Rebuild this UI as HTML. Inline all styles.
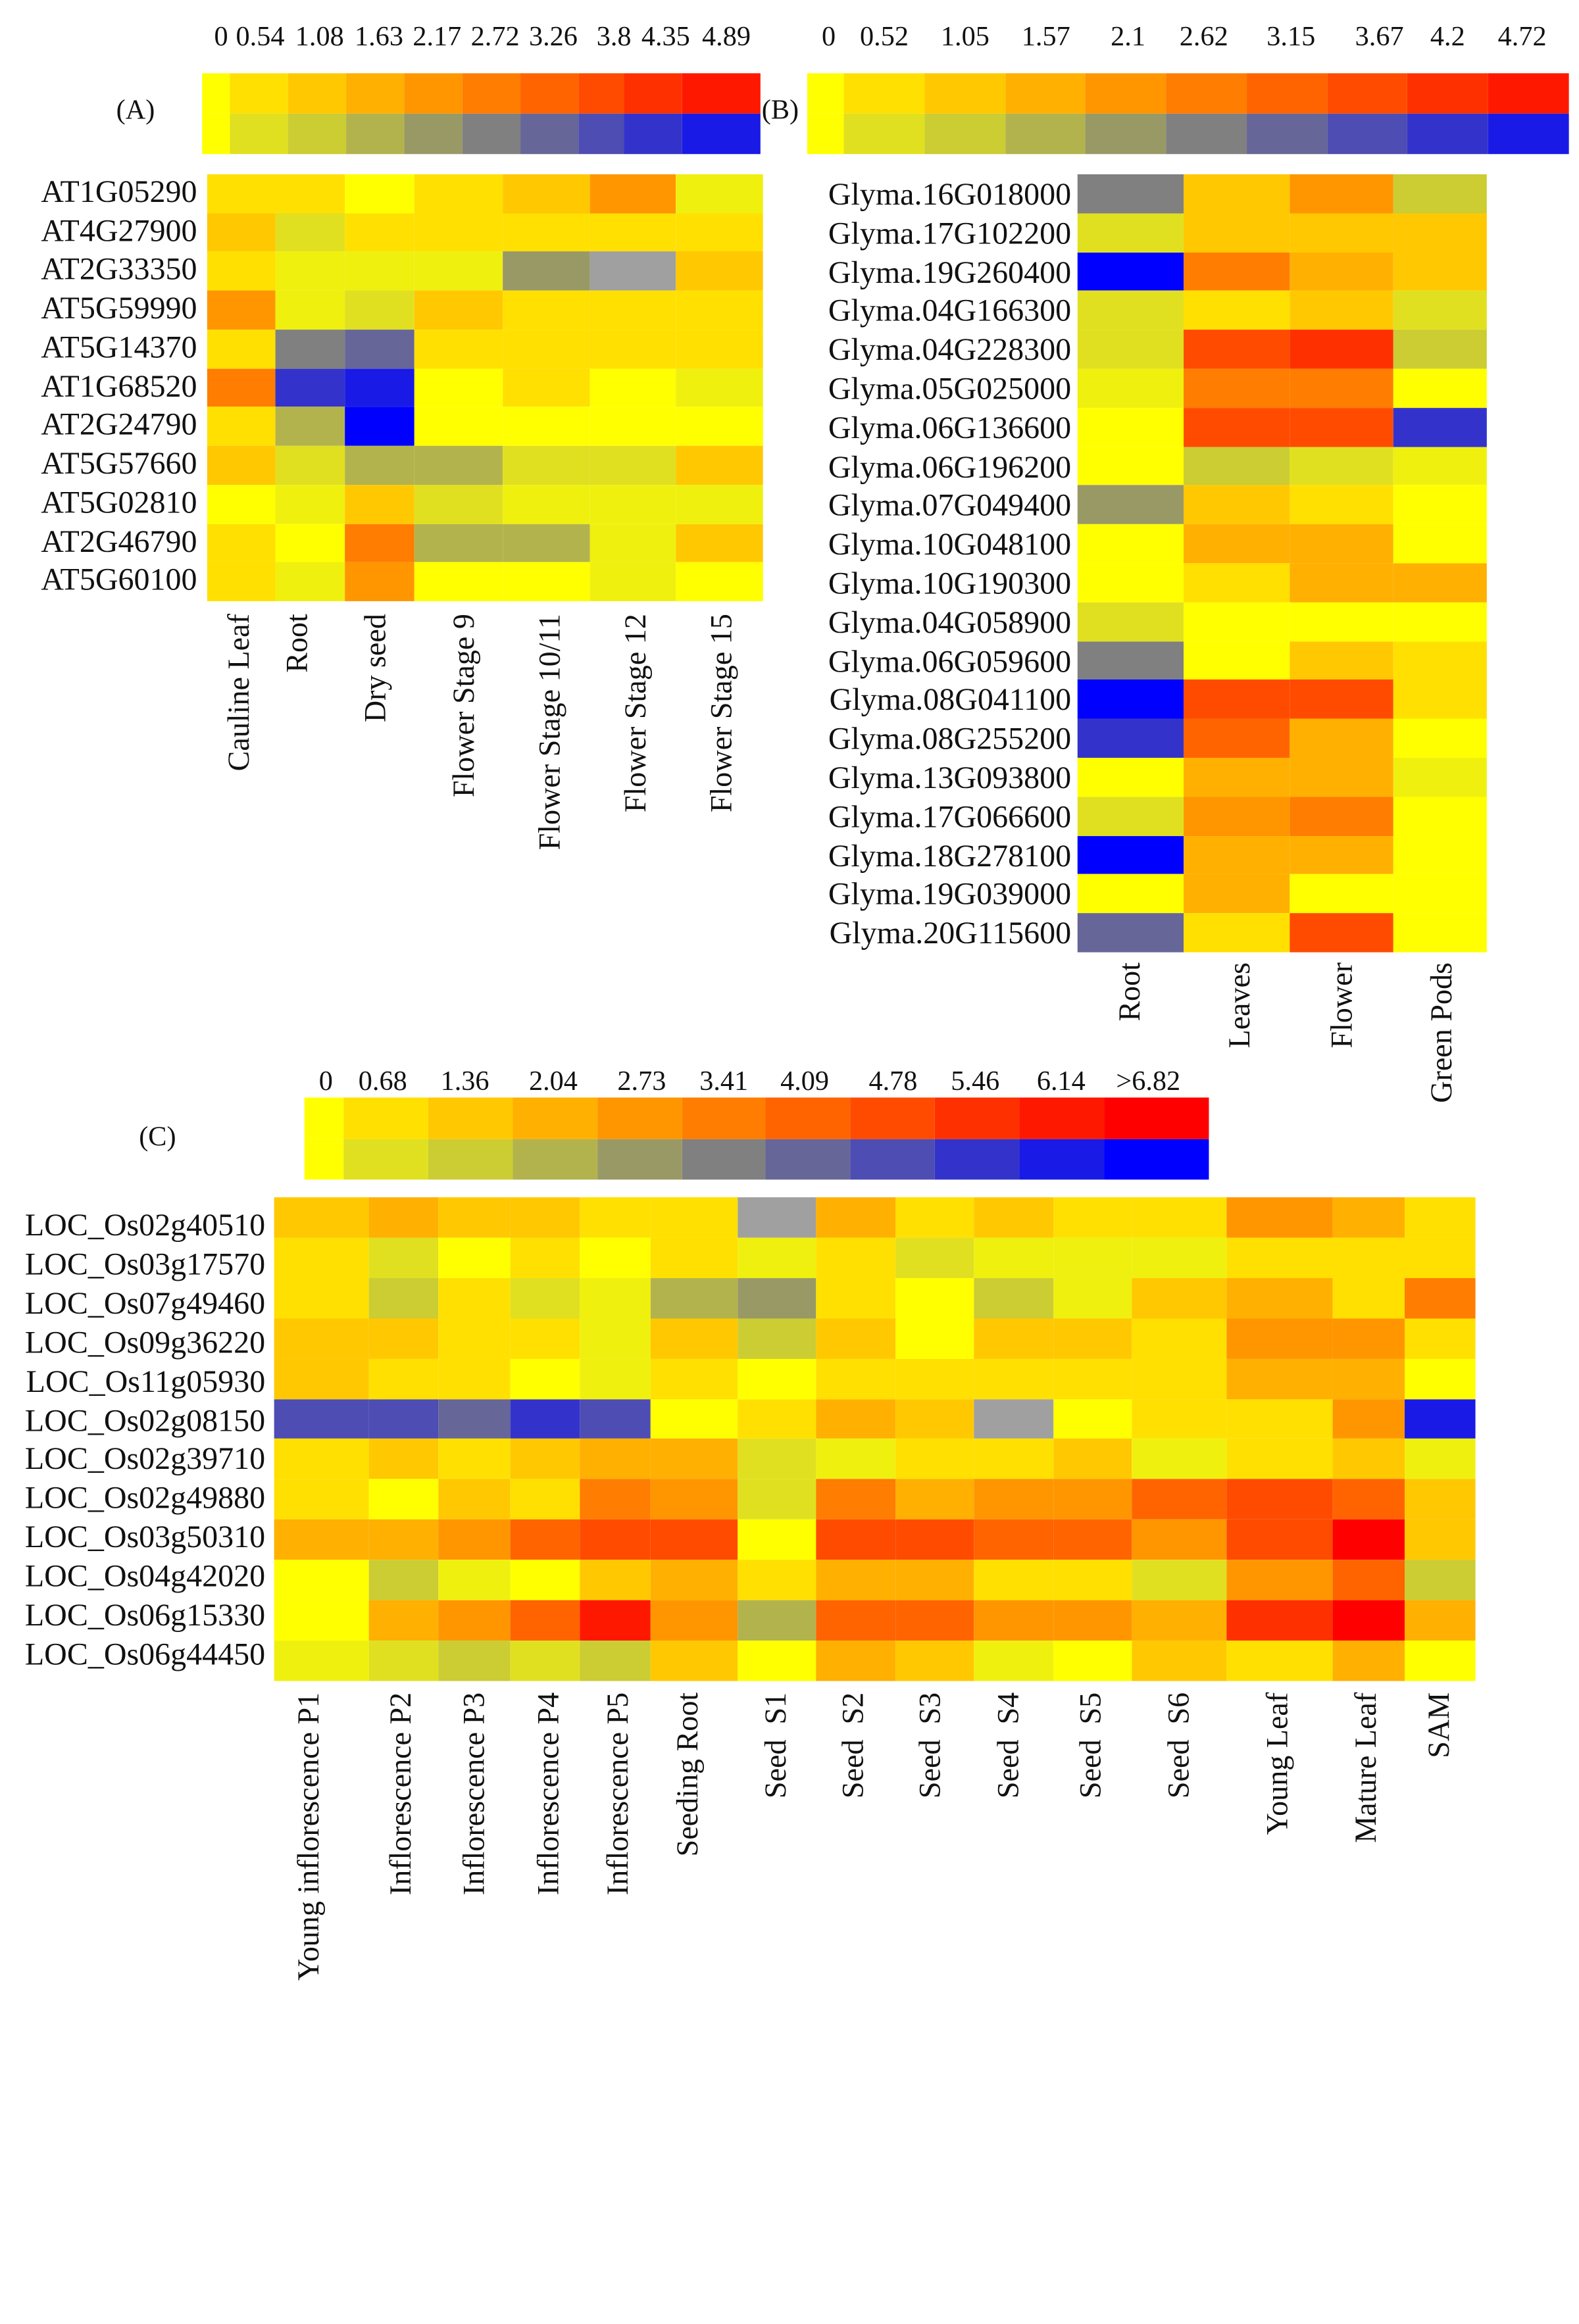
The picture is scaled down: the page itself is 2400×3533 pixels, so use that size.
<!DOCTYPE html>
<html><head><meta charset="utf-8">
<style>
html,body{margin:0;padding:0;background:#fff;width:2400px;height:3010px;overflow:hidden}
#p{position:absolute;left:0;top:0;width:1250px;height:1568px;transform:scale(1.92);transform-origin:0 0;font-family:"Liberation Serif",serif;color:#111}
.a{position:absolute}
.bar{position:absolute;display:flex;flex-direction:column}
.bar>div{display:flex;flex:1}
.bar>div>div{height:100%}
.g{position:absolute;display:grid}
.rl{position:absolute;text-align:right;font-size:25px}
.xl{position:absolute;width:500px;text-align:right;font-size:24px;line-height:28px;transform-origin:right top;transform:rotate(-90deg);white-space:nowrap}
.t{position:absolute;font-size:22px;transform:translateX(-50%);white-space:nowrap}
.Y{background:#ffff00}.Yg{background:#f0f00f}.O1{background:#ffe000}.O2{background:#ffc800}.O3{background:#ffb000}.O4{background:#ff9600}.O5{background:#ff7d00}.O6{background:#ff6400}.O7{background:#ff4b00}.O8{background:#ff3000}.O9{background:#ff1800}.R{background:#ff0000}
.G1{background:#e0e020}.G2{background:#cccc33}.G3{background:#b3b34d}.G4{background:#999966}.G5{background:#808080}.G6{background:#666699}.G7{background:#4d4db3}.G8{background:#3333cc}.G9{background:#1a1ae6}.G10{background:#0000ff}.GR{background:#a0a0a0}
</style></head><body><div id="p">

<!-- Panel A colorbar -->
<span class="t" style="left:175px;top:16px">0</span><span class="t" style="left:206px;top:16px">0.54</span><span class="t" style="left:253px;top:16px">1.08</span><span class="t" style="left:300px;top:16px">1.63</span><span class="t" style="left:346px;top:16px">2.17</span><span class="t" style="left:392px;top:16px">2.72</span><span class="t" style="left:438px;top:16px">3.26</span><span class="t" style="left:486px;top:16px">3.8</span><span class="t" style="left:527px;top:16px">4.35</span><span class="t" style="left:575px;top:16px">4.89</span>
<div class="a" style="left:92px;top:74px;font-size:22px">(A)</div>
<div class="bar" style="left:160px;top:58px;width:442px;height:64px">
<div><div class="Y" style="width:22px"></div><div class="O1" style="width:46px"></div><div class="O2" style="width:46px"></div><div class="O3" style="width:46px"></div><div class="O4" style="width:46px"></div><div class="O5" style="width:46px"></div><div class="O6" style="width:46px"></div><div class="O7" style="width:36px"></div><div class="O8" style="width:46px"></div><div class="O9" style="width:62px"></div></div>
<div><div class="Y" style="width:22px"></div><div class="G1" style="width:46px"></div><div class="G2" style="width:46px"></div><div class="G3" style="width:46px"></div><div class="G4" style="width:46px"></div><div class="G5" style="width:46px"></div><div class="G6" style="width:46px"></div><div class="G7" style="width:36px"></div><div class="G8" style="width:46px"></div><div class="G9" style="width:62px"></div></div>
</div>
<div class="rl" style="left:0;top:138px;width:156px;line-height:30.73px">AT1G05290<br>AT4G27900<br>AT2G33350<br>AT5G59990<br>AT5G14370<br>AT1G68520<br>AT2G24790<br>AT5G57660<br>AT5G02810<br>AT2G46790<br>AT5G60100</div>
<div class="g" style="left:164px;top:138px;width:440px;height:338px;grid-template-columns:53.5px 55.5px 55px 70px 69px 68px 69px;grid-template-rows:repeat(11,1fr)">
<div class="O1"></div><div class="O1"></div><div class="Y"></div><div class="O1"></div><div class="O2"></div><div class="O4"></div><div class="Yg"></div>
<div class="O2"></div><div class="G1"></div><div class="O1"></div><div class="O1"></div><div class="O1"></div><div class="O1"></div><div class="O1"></div>
<div class="O1"></div><div class="Yg"></div><div class="Yg"></div><div class="Yg"></div><div class="G4"></div><div class="GR"></div><div class="O2"></div>
<div class="O4"></div><div class="Yg"></div><div class="G1"></div><div class="O2"></div><div class="O1"></div><div class="O1"></div><div class="O1"></div>
<div class="O1"></div><div class="G5"></div><div class="G6"></div><div class="O1"></div><div class="O1"></div><div class="O1"></div><div class="O1"></div>
<div class="O5"></div><div class="G8"></div><div class="G9"></div><div class="Y"></div><div class="O1"></div><div class="Y"></div><div class="Yg"></div>
<div class="O1"></div><div class="G3"></div><div class="G10"></div><div class="Y"></div><div class="Y"></div><div class="Y"></div><div class="Y"></div>
<div class="O2"></div><div class="G1"></div><div class="G3"></div><div class="G3"></div><div class="G1"></div><div class="G1"></div><div class="O2"></div>
<div class="Y"></div><div class="Yg"></div><div class="O2"></div><div class="G1"></div><div class="Yg"></div><div class="Yg"></div><div class="Yg"></div>
<div class="O1"></div><div class="Y"></div><div class="O5"></div><div class="G3"></div><div class="G3"></div><div class="Yg"></div><div class="O2"></div>
<div class="O1"></div><div class="Yg"></div><div class="O4"></div><div class="Y"></div><div class="Y"></div><div class="Yg"></div><div class="Y"></div>
</div>
<div class="xl" style="left:-324px;top:486px">Cauline Leaf</div>
<div class="xl" style="left:-278px;top:486px">Root</div>
<div class="xl" style="left:-216px;top:486px">Dry seed</div>
<div class="xl" style="left:-146px;top:486px">Flower Stage 9</div>
<div class="xl" style="left:-78px;top:486px">Flower Stage 10/11</div>
<div class="xl" style="left:-10px;top:486px">Flower Stage 12</div>
<div class="xl" style="left:58px;top:486px">Flower Stage 15</div>

<!-- Panel B -->
<span class="t" style="left:656px;top:16px">0</span><span class="t" style="left:700px;top:16px">0.52</span><span class="t" style="left:764px;top:16px">1.05</span><span class="t" style="left:828px;top:16px">1.57</span><span class="t" style="left:893px;top:16px">2.1</span><span class="t" style="left:953px;top:16px">2.62</span><span class="t" style="left:1022px;top:16px">3.15</span><span class="t" style="left:1092px;top:16px">3.67</span><span class="t" style="left:1146px;top:16px">4.2</span><span class="t" style="left:1205px;top:16px">4.72</span>
<div class="a" style="left:603px;top:74px;font-size:22px">(B)</div>
<div class="bar" style="left:639px;top:58px;width:603px;height:64px">
<div><div class="Y" style="width:29px"></div><div class="O1" style="flex:1"></div><div class="O2" style="flex:1"></div><div class="O3" style="flex:1"></div><div class="O4" style="flex:1"></div><div class="O5" style="flex:1"></div><div class="O6" style="flex:1"></div><div class="O7" style="flex:1"></div><div class="O8" style="flex:1"></div><div class="O9" style="flex:1"></div></div>
<div><div class="Y" style="width:29px"></div><div class="G1" style="flex:1"></div><div class="G2" style="flex:1"></div><div class="G3" style="flex:1"></div><div class="G4" style="flex:1"></div><div class="G5" style="flex:1"></div><div class="G6" style="flex:1"></div><div class="G7" style="flex:1"></div><div class="G8" style="flex:1"></div><div class="G9" style="flex:1"></div></div>
</div>
<div class="rl" style="left:600px;top:140px;width:248px;line-height:30.8px">Glyma.16G018000<br>Glyma.17G102200<br>Glyma.19G260400<br>Glyma.04G166300<br>Glyma.04G228300<br>Glyma.05G025000<br>Glyma.06G136600<br>Glyma.06G196200<br>Glyma.07G049400<br>Glyma.10G048100<br>Glyma.10G190300<br>Glyma.04G058900<br>Glyma.06G059600<br>Glyma.08G041100<br>Glyma.08G255200<br>Glyma.13G093800<br>Glyma.17G066600<br>Glyma.18G278100<br>Glyma.19G039000<br>Glyma.20G115600</div>
<div class="g" style="left:853px;top:138px;width:324px;height:616px;grid-template-columns:84px 84px 82px 74px;grid-template-rows:repeat(20,1fr)">
<div class="G5"></div><div class="O2"></div><div class="O4"></div><div class="G2"></div>
<div class="G1"></div><div class="O2"></div><div class="O2"></div><div class="O2"></div>
<div class="G10"></div><div class="O5"></div><div class="O3"></div><div class="O2"></div>
<div class="G1"></div><div class="O1"></div><div class="O2"></div><div class="G1"></div>
<div class="G1"></div><div class="O7"></div><div class="O8"></div><div class="G2"></div>
<div class="Yg"></div><div class="O5"></div><div class="O5"></div><div class="Y"></div>
<div class="Y"></div><div class="O7"></div><div class="O7"></div><div class="G8"></div>
<div class="Y"></div><div class="G2"></div><div class="G1"></div><div class="Yg"></div>
<div class="G4"></div><div class="O2"></div><div class="O1"></div><div class="Y"></div>
<div class="Y"></div><div class="O3"></div><div class="O3"></div><div class="Y"></div>
<div class="Y"></div><div class="O1"></div><div class="O3"></div><div class="O3"></div>
<div class="G1"></div><div class="Y"></div><div class="Y"></div><div class="Y"></div>
<div class="G5"></div><div class="Y"></div><div class="O2"></div><div class="O1"></div>
<div class="G10"></div><div class="O7"></div><div class="O7"></div><div class="O1"></div>
<div class="G8"></div><div class="O6"></div><div class="O3"></div><div class="Y"></div>
<div class="Y"></div><div class="O3"></div><div class="O3"></div><div class="Yg"></div>
<div class="G1"></div><div class="O4"></div><div class="O5"></div><div class="Y"></div>
<div class="G10"></div><div class="O3"></div><div class="O3"></div><div class="Y"></div>
<div class="Y"></div><div class="O3"></div><div class="Y"></div><div class="Y"></div>
<div class="G6"></div><div class="O1"></div><div class="O7"></div><div class="Y"></div>
</div>
<div class="xl" style="left:381px;top:762px">Root</div>
<div class="xl" style="left:468px;top:762px">Leaves</div>
<div class="xl" style="left:549px;top:762px">Flower</div>
<div class="xl" style="left:628px;top:762px">Green Pods</div>

<!-- Panel C -->
<span class="t" style="left:258px;top:843px">0</span><span class="t" style="left:303px;top:843px">0.68</span><span class="t" style="left:368px;top:843px">1.36</span><span class="t" style="left:438px;top:843px">2.04</span><span class="t" style="left:508px;top:843px">2.73</span><span class="t" style="left:573px;top:843px">3.41</span><span class="t" style="left:637px;top:843px">4.09</span><span class="t" style="left:707px;top:843px">4.78</span><span class="t" style="left:772px;top:843px">5.46</span><span class="t" style="left:840px;top:843px">6.14</span><span class="t" style="left:909px;top:843px">&gt;6.82</span>
<div class="a" style="left:110px;top:887px;font-size:22px">(C)</div>
<div class="bar" style="left:241px;top:869px;width:716px;height:65px">
<div><div class="Y" style="width:31px"></div><div class="O1" style="width:67px"></div><div class="O2" style="width:67px"></div><div class="O3" style="width:67px"></div><div class="O4" style="width:67px"></div><div class="O5" style="width:66px"></div><div class="O6" style="width:67px"></div><div class="O7" style="width:67px"></div><div class="O8" style="width:67px"></div><div class="O9" style="width:67px"></div><div class="R" style="width:83px"></div></div>
<div><div class="Y" style="width:31px"></div><div class="G1" style="width:67px"></div><div class="G2" style="width:67px"></div><div class="G3" style="width:67px"></div><div class="G4" style="width:67px"></div><div class="G5" style="width:66px"></div><div class="G6" style="width:67px"></div><div class="G7" style="width:67px"></div><div class="G8" style="width:67px"></div><div class="G9" style="width:67px"></div><div class="G10" style="width:83px"></div></div>
</div>
<div class="rl" style="left:0;top:956px;width:210px;line-height:30.9px">LOC_Os02g40510<br>LOC_Os03g17570<br>LOC_Os07g49460<br>LOC_Os09g36220<br>LOC_Os11g05930<br>LOC_Os02g08150<br>LOC_Os02g39710<br>LOC_Os02g49880<br>LOC_Os03g50310<br>LOC_Os04g42020<br>LOC_Os06g15330<br>LOC_Os06g44450</div>
<div class="g" style="left:217px;top:948px;width:951px;height:383px;grid-template-columns:75px 55px 57px 55px 56px 69px 62px 63px 62px 63px 62px 75px 84px 57px 56px;grid-template-rows:repeat(12,1fr)">
<div class="O2"></div><div class="O3"></div><div class="O2"></div><div class="O2"></div><div class="O1"></div><div class="O1"></div><div class="GR"></div><div class="O3"></div><div class="O1"></div><div class="O2"></div><div class="O1"></div><div class="O1"></div><div class="O4"></div><div class="O3"></div><div class="O1"></div>
<div class="O1"></div><div class="G1"></div><div class="Y"></div><div class="O1"></div><div class="Y"></div><div class="O1"></div><div class="Yg"></div><div class="O1"></div><div class="G1"></div><div class="Yg"></div><div class="Yg"></div><div class="Yg"></div><div class="O1"></div><div class="O1"></div><div class="O1"></div>
<div class="O1"></div><div class="G2"></div><div class="O1"></div><div class="G1"></div><div class="Yg"></div><div class="G3"></div><div class="G4"></div><div class="O1"></div><div class="Y"></div><div class="G2"></div><div class="Yg"></div><div class="O2"></div><div class="O3"></div><div class="O1"></div><div class="O5"></div>
<div class="O2"></div><div class="O2"></div><div class="O1"></div><div class="O1"></div><div class="Yg"></div><div class="O2"></div><div class="G2"></div><div class="O2"></div><div class="Y"></div><div class="O2"></div><div class="O2"></div><div class="O1"></div><div class="O4"></div><div class="O4"></div><div class="O1"></div>
<div class="O2"></div><div class="O1"></div><div class="O1"></div><div class="Y"></div><div class="Yg"></div><div class="O1"></div><div class="Y"></div><div class="O1"></div><div class="O1"></div><div class="O1"></div><div class="O1"></div><div class="O1"></div><div class="O3"></div><div class="O3"></div><div class="Y"></div>
<div class="G7"></div><div class="G7"></div><div class="G6"></div><div class="G8"></div><div class="G7"></div><div class="Y"></div><div class="O1"></div><div class="O3"></div><div class="O2"></div><div class="GR"></div><div class="Y"></div><div class="O1"></div><div class="O1"></div><div class="O4"></div><div class="G9"></div>
<div class="O1"></div><div class="O2"></div><div class="O1"></div><div class="O2"></div><div class="O3"></div><div class="O3"></div><div class="G1"></div><div class="Yg"></div><div class="O1"></div><div class="O1"></div><div class="O2"></div><div class="Yg"></div><div class="O1"></div><div class="O2"></div><div class="Yg"></div>
<div class="O1"></div><div class="Y"></div><div class="O2"></div><div class="O1"></div><div class="O5"></div><div class="O4"></div><div class="G1"></div><div class="O5"></div><div class="O3"></div><div class="O4"></div><div class="O4"></div><div class="O6"></div><div class="O7"></div><div class="O6"></div><div class="O2"></div>
<div class="O3"></div><div class="O3"></div><div class="O4"></div><div class="O6"></div><div class="O7"></div><div class="O7"></div><div class="Y"></div><div class="O7"></div><div class="O7"></div><div class="O6"></div><div class="O6"></div><div class="O4"></div><div class="O7"></div><div class="R"></div><div class="O2"></div>
<div class="Y"></div><div class="G2"></div><div class="Yg"></div><div class="Y"></div><div class="O2"></div><div class="O3"></div><div class="O1"></div><div class="O3"></div><div class="O3"></div><div class="O1"></div><div class="O1"></div><div class="G1"></div><div class="O4"></div><div class="O6"></div><div class="G2"></div>
<div class="Y"></div><div class="O3"></div><div class="O4"></div><div class="O6"></div><div class="O9"></div><div class="O4"></div><div class="G3"></div><div class="O6"></div><div class="O6"></div><div class="O4"></div><div class="O4"></div><div class="O3"></div><div class="O8"></div><div class="R"></div><div class="O3"></div>
<div class="Yg"></div><div class="G1"></div><div class="G2"></div><div class="G1"></div><div class="G2"></div><div class="O2"></div><div class="Y"></div><div class="O3"></div><div class="O2"></div><div class="Yg"></div><div class="Y"></div><div class="O2"></div><div class="O1"></div><div class="O3"></div><div class="Y"></div>
</div>
<div class="xl" style="left:-269px;top:1340px">Young inflorescence P1</div>
<div class="xl" style="left:-196px;top:1340px">Inflorescence P2</div>
<div class="xl" style="left:-138px;top:1340px">Inflorescence P3</div>
<div class="xl" style="left:-79px;top:1340px">Inflorescence P4</div>
<div class="xl" style="left:-24px;top:1340px">Inflorescence P5</div>
<div class="xl" style="left:31px;top:1340px">Seeding Root</div>
<div class="xl" style="left:101px;top:1340px">Seed&nbsp;&nbsp;S1</div>
<div class="xl" style="left:162px;top:1340px">Seed&nbsp;&nbsp;S2</div>
<div class="xl" style="left:223px;top:1340px">Seed&nbsp;&nbsp;S3</div>
<div class="xl" style="left:285px;top:1340px">Seed&nbsp;&nbsp;S4</div>
<div class="xl" style="left:350px;top:1340px">Seed&nbsp;&nbsp;S5</div>
<div class="xl" style="left:420px;top:1340px">Seed&nbsp;&nbsp;S6</div>
<div class="xl" style="left:498px;top:1340px">Young Leaf</div>
<div class="xl" style="left:568px;top:1340px">Mature Leaf</div>
<div class="xl" style="left:626px;top:1340px">SAM</div>
</div></body></html>
